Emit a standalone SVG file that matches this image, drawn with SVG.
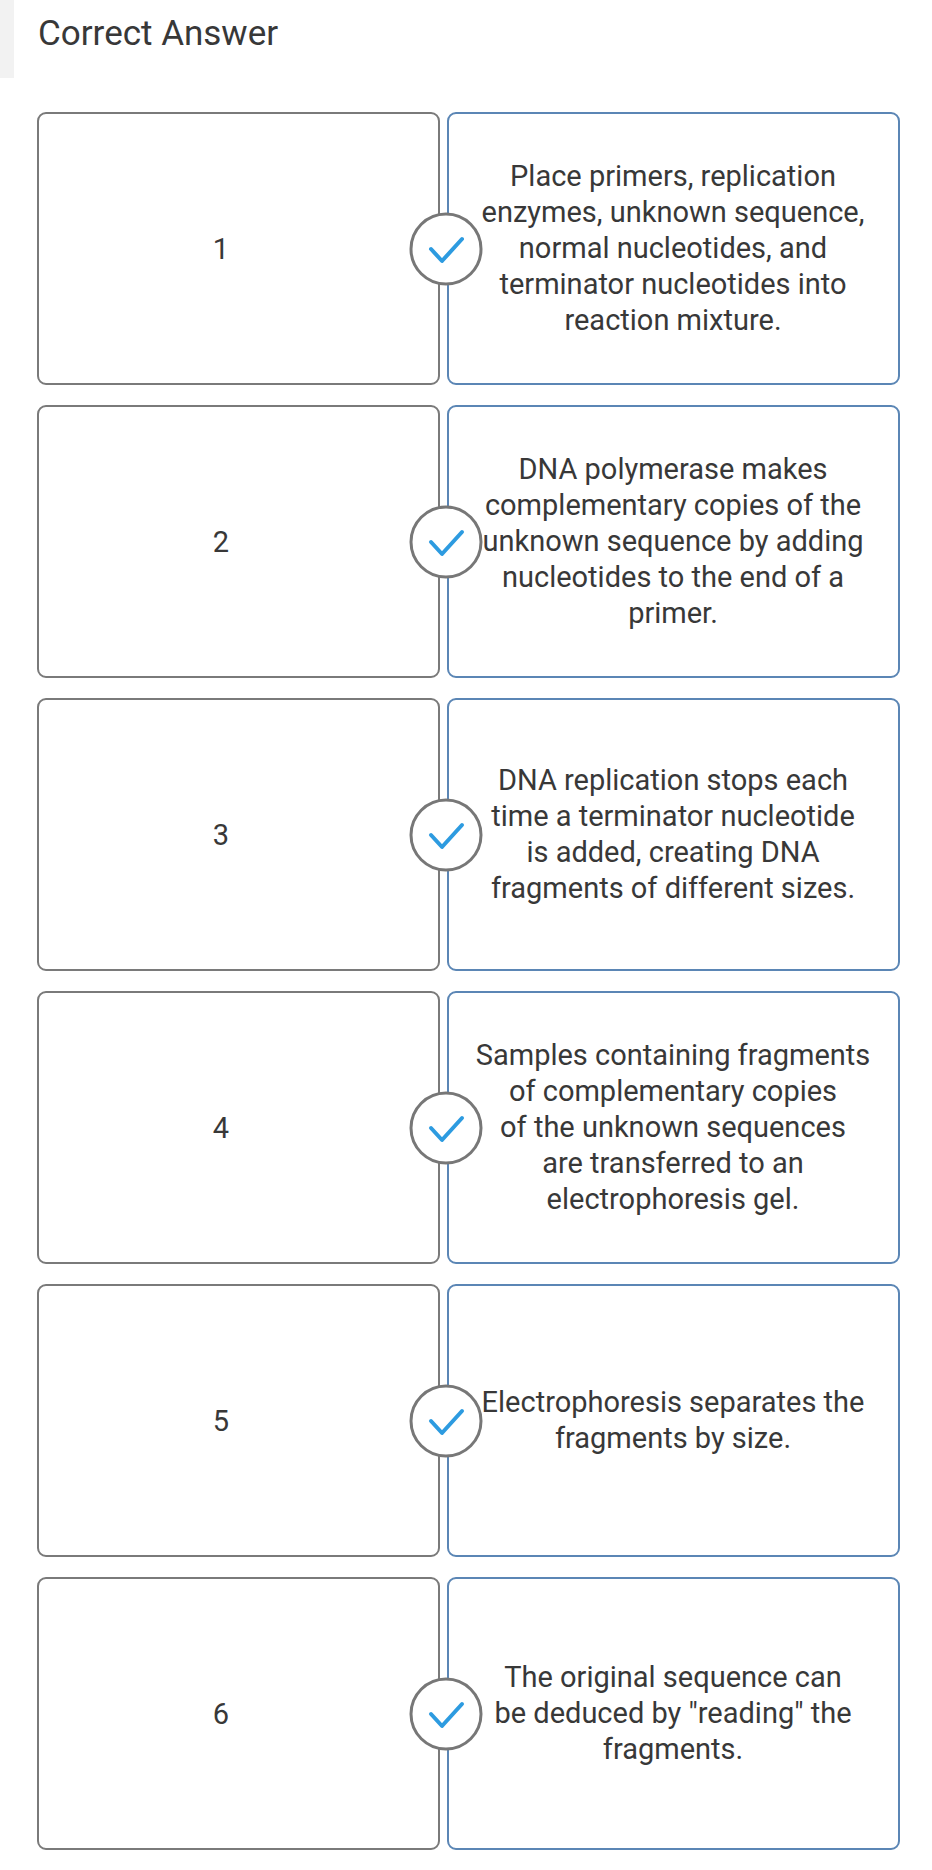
<svg xmlns="http://www.w3.org/2000/svg" width="932" height="1870" viewBox="0 0 932 1870">
<style>
.l{fill:#fff;stroke:#7a7a7a;stroke-width:2}
.r{fill:#fff;stroke:#5b86b5;stroke-width:2}
.c{fill:#fff;stroke:#777;stroke-width:3}
.k{fill:none;stroke:#2d9be0;stroke-width:4;stroke-linecap:round;stroke-linejoin:round}
text{font-family:Roboto,"Liberation Sans",sans-serif;fill:#383838;text-anchor:middle;font-size:29px}
</style>
<rect x="0" y="0" width="932" height="1870" fill="#fff"/>
<rect x="0" y="0" width="14" height="78" fill="#f2f2f2"/>
<text x="38" y="45" style="text-anchor:start;font-size:35px">Correct Answer</text>
<g id="n1"><rect class="l" x="38" y="113" width="401" height="271" rx="8"/><rect class="r" x="448" y="113" width="451" height="271" rx="8"/><text x="221" y="259">1</text>
<text x="673" y="186">Place primers, replication</text><text x="673" y="222">enzymes, unknown sequence,</text><text x="673" y="258">normal nucleotides, and</text><text x="673" y="294">terminator nucleotides into</text><text x="673" y="330">reaction mixture.</text>
<circle class="c" cx="446" cy="249" r="35"/><path class="k" d="M431 249 L442 261 L462 239"/></g>
<g id="n2"><rect class="l" x="38" y="406" width="401" height="271" rx="8"/><rect class="r" x="448" y="406" width="451" height="271" rx="8"/><text x="221" y="552">2</text>
<text x="673" y="479">DNA polymerase makes</text><text x="673" y="515">complementary copies of the</text><text x="673" y="551">unknown sequence by adding</text><text x="673" y="587">nucleotides to the end of a</text><text x="673" y="623">primer.</text>
<circle class="c" cx="446" cy="542" r="35"/><path class="k" d="M431 542 L442 554 L462 532"/></g>
<g id="n3"><rect class="l" x="38" y="699" width="401" height="271" rx="8"/><rect class="r" x="448" y="699" width="451" height="271" rx="8"/><text x="221" y="845">3</text>
<text x="673" y="790">DNA replication stops each</text><text x="673" y="826">time a terminator nucleotide</text><text x="673" y="862">is added, creating DNA</text><text x="673" y="898">fragments of different sizes.</text>
<circle class="c" cx="446" cy="835" r="35"/><path class="k" d="M431 835 L442 847 L462 825"/></g>
<g id="n4"><rect class="l" x="38" y="992" width="401" height="271" rx="8"/><rect class="r" x="448" y="992" width="451" height="271" rx="8"/><text x="221" y="1138">4</text>
<text x="673" y="1065">Samples containing fragments</text><text x="673" y="1101">of complementary copies</text><text x="673" y="1137">of the unknown sequences</text><text x="673" y="1173">are transferred to an</text><text x="673" y="1209">electrophoresis gel.</text>
<circle class="c" cx="446" cy="1128" r="35"/><path class="k" d="M431 1128 L442 1140 L462 1118"/></g>
<g id="n5"><rect class="l" x="38" y="1285" width="401" height="271" rx="8"/><rect class="r" x="448" y="1285" width="451" height="271" rx="8"/><text x="221" y="1431">5</text>
<text x="673" y="1412">Electrophoresis separates the</text><text x="673" y="1448">fragments by size.</text>
<circle class="c" cx="446" cy="1421" r="35"/><path class="k" d="M431 1421 L442 1433 L462 1411"/></g>
<g id="n6"><rect class="l" x="38" y="1578" width="401" height="271" rx="8"/><rect class="r" x="448" y="1578" width="451" height="271" rx="8"/><text x="221" y="1724">6</text>
<text x="673" y="1687">The original sequence can</text><text x="673" y="1723">be deduced by "reading" the</text><text x="673" y="1759">fragments.</text>
<circle class="c" cx="446" cy="1714" r="35"/><path class="k" d="M431 1714 L442 1726 L462 1704"/></g>
<g id="connectors"></g>
</svg>
